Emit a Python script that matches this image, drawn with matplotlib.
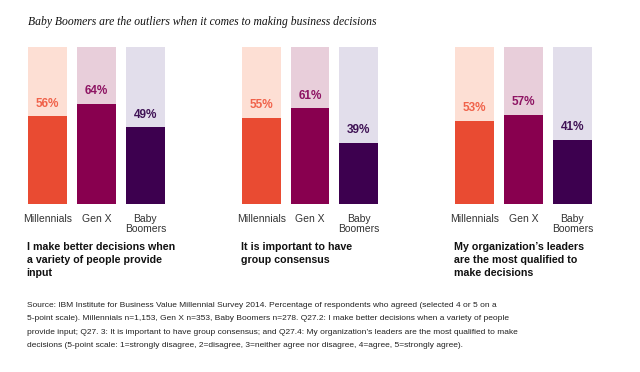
import matplotlib.pyplot as plt

plt.rcParams['font.family'] = ['Liberation Sans', 'DejaVu Sans']

# data
groups = ['Millennials', 'Gen X', 'Baby\nBoomers']
q_better_decisions = [56, 64, 49]
q_group_consensus = [55, 61, 39]
q_leaders_qualified = [53, 57, 41]

panel_titles = [
    'I make better decisions when\na variety of people provide\ninput',
    'It is important to have\ngroup consensus',
    'My organization\u2019s leaders\nare the most qualified to\nmake decisions',
]

bar_colors = ['#E94B32', '#88004F', '#3D004F']
bg_colors = ['#FDDFD4', '#E8CEDA', '#E2DEEB']
label_colors = ['#F0624A', '#8E1463', '#3F1255']

footnote = (
    "Source: IBM Institute for Business Value Millennial Survey 2014. Percentage of respondents who agreed (selected 4 or 5 on a\n"
    "5-point scale). Millennials n=1,153, Gen X n=353, Baby Boomers n=278. Q27.2: I make better decisions when a variety of people\n"
    "provide input; Q27. 3: It is important to have group consensus; and Q27.4: My organization\u2019s leaders are the most qualified to make\n"
    "decisions (5-point scale: 1=strongly disagree, 2=disagree, 3=neither agree nor disagree, 4=agree, 5=strongly agree)."
)

W, H = 640, 372
fig = plt.figure(figsize=(W / 100, H / 100), dpi=100)
fig.patch.set_facecolor('white')

# panel left/right edges in pixels
panel_px = [(28, 165), (242, 378), (455, 592)]
bar_top, bar_bottom = 47, 204
series = [q_better_decisions, q_group_consensus, q_leaders_qualified]

for (x0, x1), vals, title in zip(panel_px, series, panel_titles):
    ax = fig.add_axes([x0 / W, (H - bar_bottom) / H, (x1 - x0) / W, (bar_bottom - bar_top) / H])
    xs = range(len(vals))
    ax.bar(xs, [100] * len(vals), width=0.8, color=bg_colors, linewidth=0)
    ax.bar(xs, vals, width=0.8, color=bar_colors, linewidth=0)
    for x, v, c in zip(xs, vals, label_colors):
        ax.annotate(f'{v}%', (x, v), xytext=(0, 9), textcoords='offset points',
                    ha='center', va='center', fontsize=8.5, fontweight='bold', color=c)
    ax.set_xlim(-0.4, 2.4)
    ax.set_ylim(0, 100)
    ax.set_xticks(list(xs))
    ax.set_xticklabels(groups, fontsize=7.5, color='#333333', linespacing=1.0)
    ax.tick_params(axis='x', length=0, pad=7)
    ax.set_yticks([])
    for s in ax.spines.values():
        s.set_visible(False)
    fig.text(x0 / W - 0.002, 1 - 242 / H, title, ha='left', va='top', fontsize=7.7,
             fontweight='bold', color='#111111', linespacing=1.4)

fig.text(28 / W, 1 - 22 / H, 'Baby Boomers are the outliers when it comes to making business decisions',
         ha='left', va='center', fontsize=8.4, style='italic', family='Liberation Serif', color='#111111')

fig.text(27 / W, 1 - 302 / H, footnote, ha='left', va='top', fontsize=6.0, color='#222222', linespacing=2.25)

fig.savefig('out.png', dpi=100, facecolor='white')
